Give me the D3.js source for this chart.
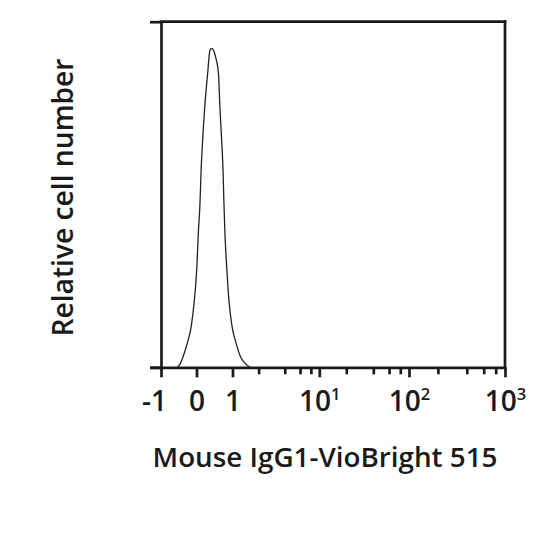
<!DOCTYPE html>
<html>
<head>
<meta charset="utf-8">
<script src="https://cdn.jsdelivr.net/npm/d3@7"></script>
<style>
  body { margin: 0; background: #fff; }
  svg { display: block; }
  text { font-family: "Open Sans", "DejaVu Sans", sans-serif; font-weight: 600; fill: #1a1a1a; }
</style>
</head>
<body>
<svg id="chart" width="540" height="540"></svg>
<script>
// histogram: fluorescence (display units) and relative count (% of frame height)
var intensity = [-0.54, -0.48, -0.38, -0.26, -0.15, -0.06, 0.01, 0.05, 0.10, 0.125, 0.17, 0.23, 0.31, 0.375, 0.42,
                 0.49, 0.54, 0.61, 0.65, 0.70, 0.74, 0.76, 0.79, 0.84, 0.90, 0.99, 1.10, 1.24, 1.46, 1.59];
var counts =    [0, 0.7, 3.0, 7.0, 11.7, 19.5, 29.0, 38.7, 48.3, 56.1, 65.6, 75.4, 85.1, 91.8, 92.3,
                 91.3, 89.4, 85.1, 75.4, 65.6, 56.1, 48.3, 38.7, 29.0, 19.5, 11.7, 7.0, 3.0, 0.7, 0];

var majorTicks = [-1, 0, 1, 10, 100, 1000];
var majorLabels = [["-1"], ["0"], ["1"], ["10", "1"], ["10", "2"], ["10", "3"]];
var minorTicks = [2, 4, 6, 8, 20, 40, 60, 80, 200, 400, 600, 800];

var xTitle = "Mouse IgG1-VioBright 515";
var yTitle = "Relative cell number";

var svg = d3.select("#chart");
var margin = { top: 21.7, right: 35, bottom: 172.7, left: 161 };
var width = 540 - margin.left - margin.right;
var height = 540 - margin.top - margin.bottom;
var ink = "#1a1a1a";

// biexponential-ish display: linear up to 1, log above
function t (v) { return v <= 1 ? v : 1 + Math.log10(v); }
var breakPos = [0, 0.1032, 0.2078, 0.4602, 0.7209, 1]; // fraction of width for each major tick

var x = d3.scaleLinear()
  .domain(majorTicks.map(t))
  .range(breakPos.map(f => f * width));
var y = d3.scaleLinear().domain([0, 100]).range([height, 0]);

var g = svg.append("g").attr("transform", "translate(" + margin.left + "," + margin.top + ")");

// curve
var line = d3.line()
  .x(d => x(t(d[0])))
  .y(d => y(d[1]))
  .curve(d3.curveMonotoneX);

g.append("path")
  .datum(d3.zip(intensity, counts))
  .attr("d", line)
  .attr("fill", "none")
  .attr("stroke", "#222")
  .attr("stroke-width", 1.3);

// frame: top and right
g.append("line").attr("x1", 0).attr("x2", width).attr("y1", 0).attr("y2", 0)
  .attr("stroke", ink).attr("stroke-width", 2.7).attr("stroke-linecap", "square");
g.append("line").attr("x1", width).attr("x2", width).attr("y1", 0).attr("y2", height)
  .attr("stroke", ink).attr("stroke-width", 2.7).attr("stroke-linecap", "square");

// y axis, only the two end ticks
var yAxis = g.append("g")
  .call(d3.axisLeft(y).tickValues([0, 100]).tickSize(11).tickSizeOuter(0).tickFormat(""));
yAxis.selectAll("line, path").attr("stroke", ink).attr("stroke-width", 2.7);

// x axis minor ticks
var xMinor = g.append("g")
  .attr("transform", "translate(0," + height + ")")
  .call(d3.axisBottom(x).tickValues(minorTicks.map(t)).tickSize(7).tickSizeOuter(0).tickFormat(""));
xMinor.select(".domain").remove();
xMinor.selectAll("line").attr("stroke", ink).attr("stroke-width", 2.7);

// x axis major ticks
var xAxis = g.append("g")
  .attr("transform", "translate(0," + height + ")")
  .call(d3.axisBottom(x).tickValues(majorTicks.map(t)).tickSize(10).tickSizeOuter(0).tickFormat(""));
xAxis.selectAll("line, path").attr("stroke", ink).attr("stroke-width", 2.7);
xAxis.select(".domain").attr("d", "M-11,0.5H" + width);

xAxis.selectAll(".tick").each(function (d, i) {
  var lab = majorLabels[i];
  var txt = d3.select(this).append("text")
    .attr("y", 43.7)
    .attr("dx", i === 0 ? -7 : 0)
    .attr("text-anchor", "middle")
    .style("font-size", "28px")
    .style("fill", ink);
  txt.append("tspan").text(lab[0]);
  if (lab[1]) {
    txt.append("tspan").text(lab[1]).attr("dy", -11).style("font-size", "16.5px");
  }
});

// titles
svg.append("text")
  .attr("x", 325).attr("y", 467)
  .attr("text-anchor", "middle")
  .style("font-size", "27.8px")
  .text(xTitle);

svg.append("text")
  .attr("transform", "translate(73,197.5) rotate(-90)")
  .attr("text-anchor", "middle")
  .style("font-size", "28.2px")
  .text(yTitle);
</script>
</body>
</html>
